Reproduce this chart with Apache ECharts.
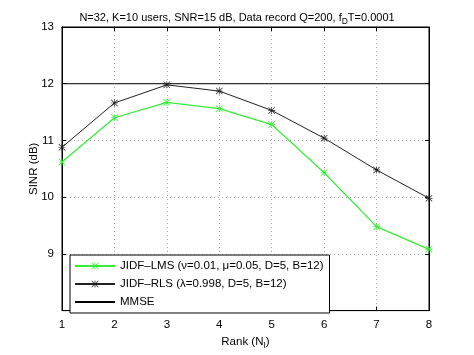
<!DOCTYPE html>
<html><head><meta charset="utf-8">
<script src="https://cdn.jsdelivr.net/npm/echarts@6/dist/echarts.min.js"></script>
<style>html,body{margin:0;padding:0;background:#fff}#c{width:474px;height:355px}</style>
</head><body><div id="c"></div>
<script>
const ranks = [1, 2, 3, 4, 5, 6, 7, 8];
const lmsValues = [10.62, 11.40, 11.67, 11.56, 11.28, 10.43, 9.48, 9.08];
const rlsValues = [10.88, 11.66, 11.98, 11.87, 11.53, 11.04, 10.48, 9.98];
const mmseValues = [12.0, 12.0, 12.0, 12.0, 12.0, 12.0, 12.0, 12.0];
const seriesNames = ['JIDF–LMS (ν=0.01, μ=0.05, D=5, B=12)', 'JIDF–RLS (λ=0.998, D=5, B=12)', 'MMSE'];

const star = 'path://M0 9 L20 9 L20 11 L0 11 Z M9 0 L11 0 L11 20 L9 20 Z M0 1.4 L1.4 0 L20 18.6 L18.6 20 Z M18.6 0 L20 1.4 L1.4 20 L0 18.6 Z';
const font = '"Liberation Sans", Arial, sans-serif';
const pair = v => ranks.map((r, i) => [r, v[i]]);

const chart = echarts.init(document.getElementById('c'));
const axisCommon = {
  axisLine: {show: true, lineStyle: {color: '#000', width: 1}},
  axisTick: {show: true, inside: true, length: 4, lineStyle: {color: '#000'}},
};
chart.setOption({
  animation: false,
  backgroundColor: '#fff',
  textStyle: {fontFamily: font},
  title: {
    left: 'center', top: 4,
    text: '{a|N=32, K=10 users, SNR=15 dB, Data record Q=200, f}{s|D}{a|T=0.0001}',
    textStyle: {
      rich: {
        a: {fontFamily: font, fontSize: 11, color: '#000', fontWeight: 'normal'},
        s: {fontFamily: font, fontSize: 8.5, color: '#000', fontWeight: 'normal', padding: [8, 0, 0, 0]}
      }
    }
  },
  grid: {left: 62, right: 45, top: 27, bottom: 40, show: true, borderColor: '#000', borderWidth: 1},
  xAxis: [
    Object.assign({
      type: 'value', min: 1, max: 8, interval: 1, position: 'bottom',
      name: '{a|Rank (N}{s|I}{a|)}', nameLocation: 'middle', nameGap: 20,
      nameTextStyle: {rich: {
        a: {fontFamily: font, fontSize: 11.5, color: '#000'},
        s: {fontFamily: font, fontSize: 8.5, color: '#000', padding: [8, 0, 0, 0]}
      }},
      axisLabel: {color: '#000', fontSize: 11.5, fontFamily: font, margin: 8},
      splitLine: {show: true, lineStyle: {color: '#aaa', type: [1, 3], width: 1}}
    }, axisCommon),
    Object.assign({
      type: 'value', min: 1, max: 8, interval: 1, position: 'top',
      axisLabel: {show: false}, splitLine: {show: false}
    }, axisCommon)
  ],
  yAxis: [
    Object.assign({
      type: 'value', min: 8, max: 13, interval: 1, position: 'left',
      name: 'SINR (dB)', nameLocation: 'middle', nameGap: 22, nameMoveOverlap: false,
      nameTextStyle: {color: '#000', fontSize: 11.5, fontFamily: font},
      axisLabel: {color: '#000', fontSize: 11.5, fontFamily: font, margin: 8,
        formatter: v => v === 8 ? '' : String(v)},
      splitLine: {show: true, lineStyle: {color: '#aaa', type: [1, 3], width: 1}}
    }, axisCommon),
    Object.assign({
      type: 'value', min: 8, max: 13, interval: 1, position: 'right',
      axisLabel: {show: false}, splitLine: {show: false}
    }, axisCommon)
  ],
  legend: {
    orient: 'vertical', left: 70, top: 255,
    backgroundColor: '#fff', borderColor: '#000', borderWidth: 1, borderRadius: 0,
    padding: [5, 6, 5, 4], itemGap: 6, itemWidth: 40, itemHeight: 9,
    textStyle: {color: '#000', fontSize: 11.5, fontFamily: font},
    data: [
      {name: seriesNames[0]},
      {name: seriesNames[1]},
      {name: seriesNames[2], itemStyle: {opacity: 0}}
    ]
  },
  series: [
    {name: seriesNames[0], type: 'line', data: pair(lmsValues), color: '#33ee33',
     lineStyle: {color: '#33ee33', width: 1.2}, symbol: star, symbolSize: 7,
     itemStyle: {color: '#33ee33'}, z: 5},
    {name: seriesNames[1], type: 'line', data: pair(rlsValues), color: '#222',
     lineStyle: {color: '#222', width: 1}, symbol: star, symbolSize: 7,
     itemStyle: {color: '#222'}, z: 5},
    {name: seriesNames[2], type: 'line', data: pair(mmseValues), color: '#000',
     lineStyle: {color: '#000', width: 1}, symbol: 'none', showSymbol: false, z: 4}
  ]
});
</script></body></html>
